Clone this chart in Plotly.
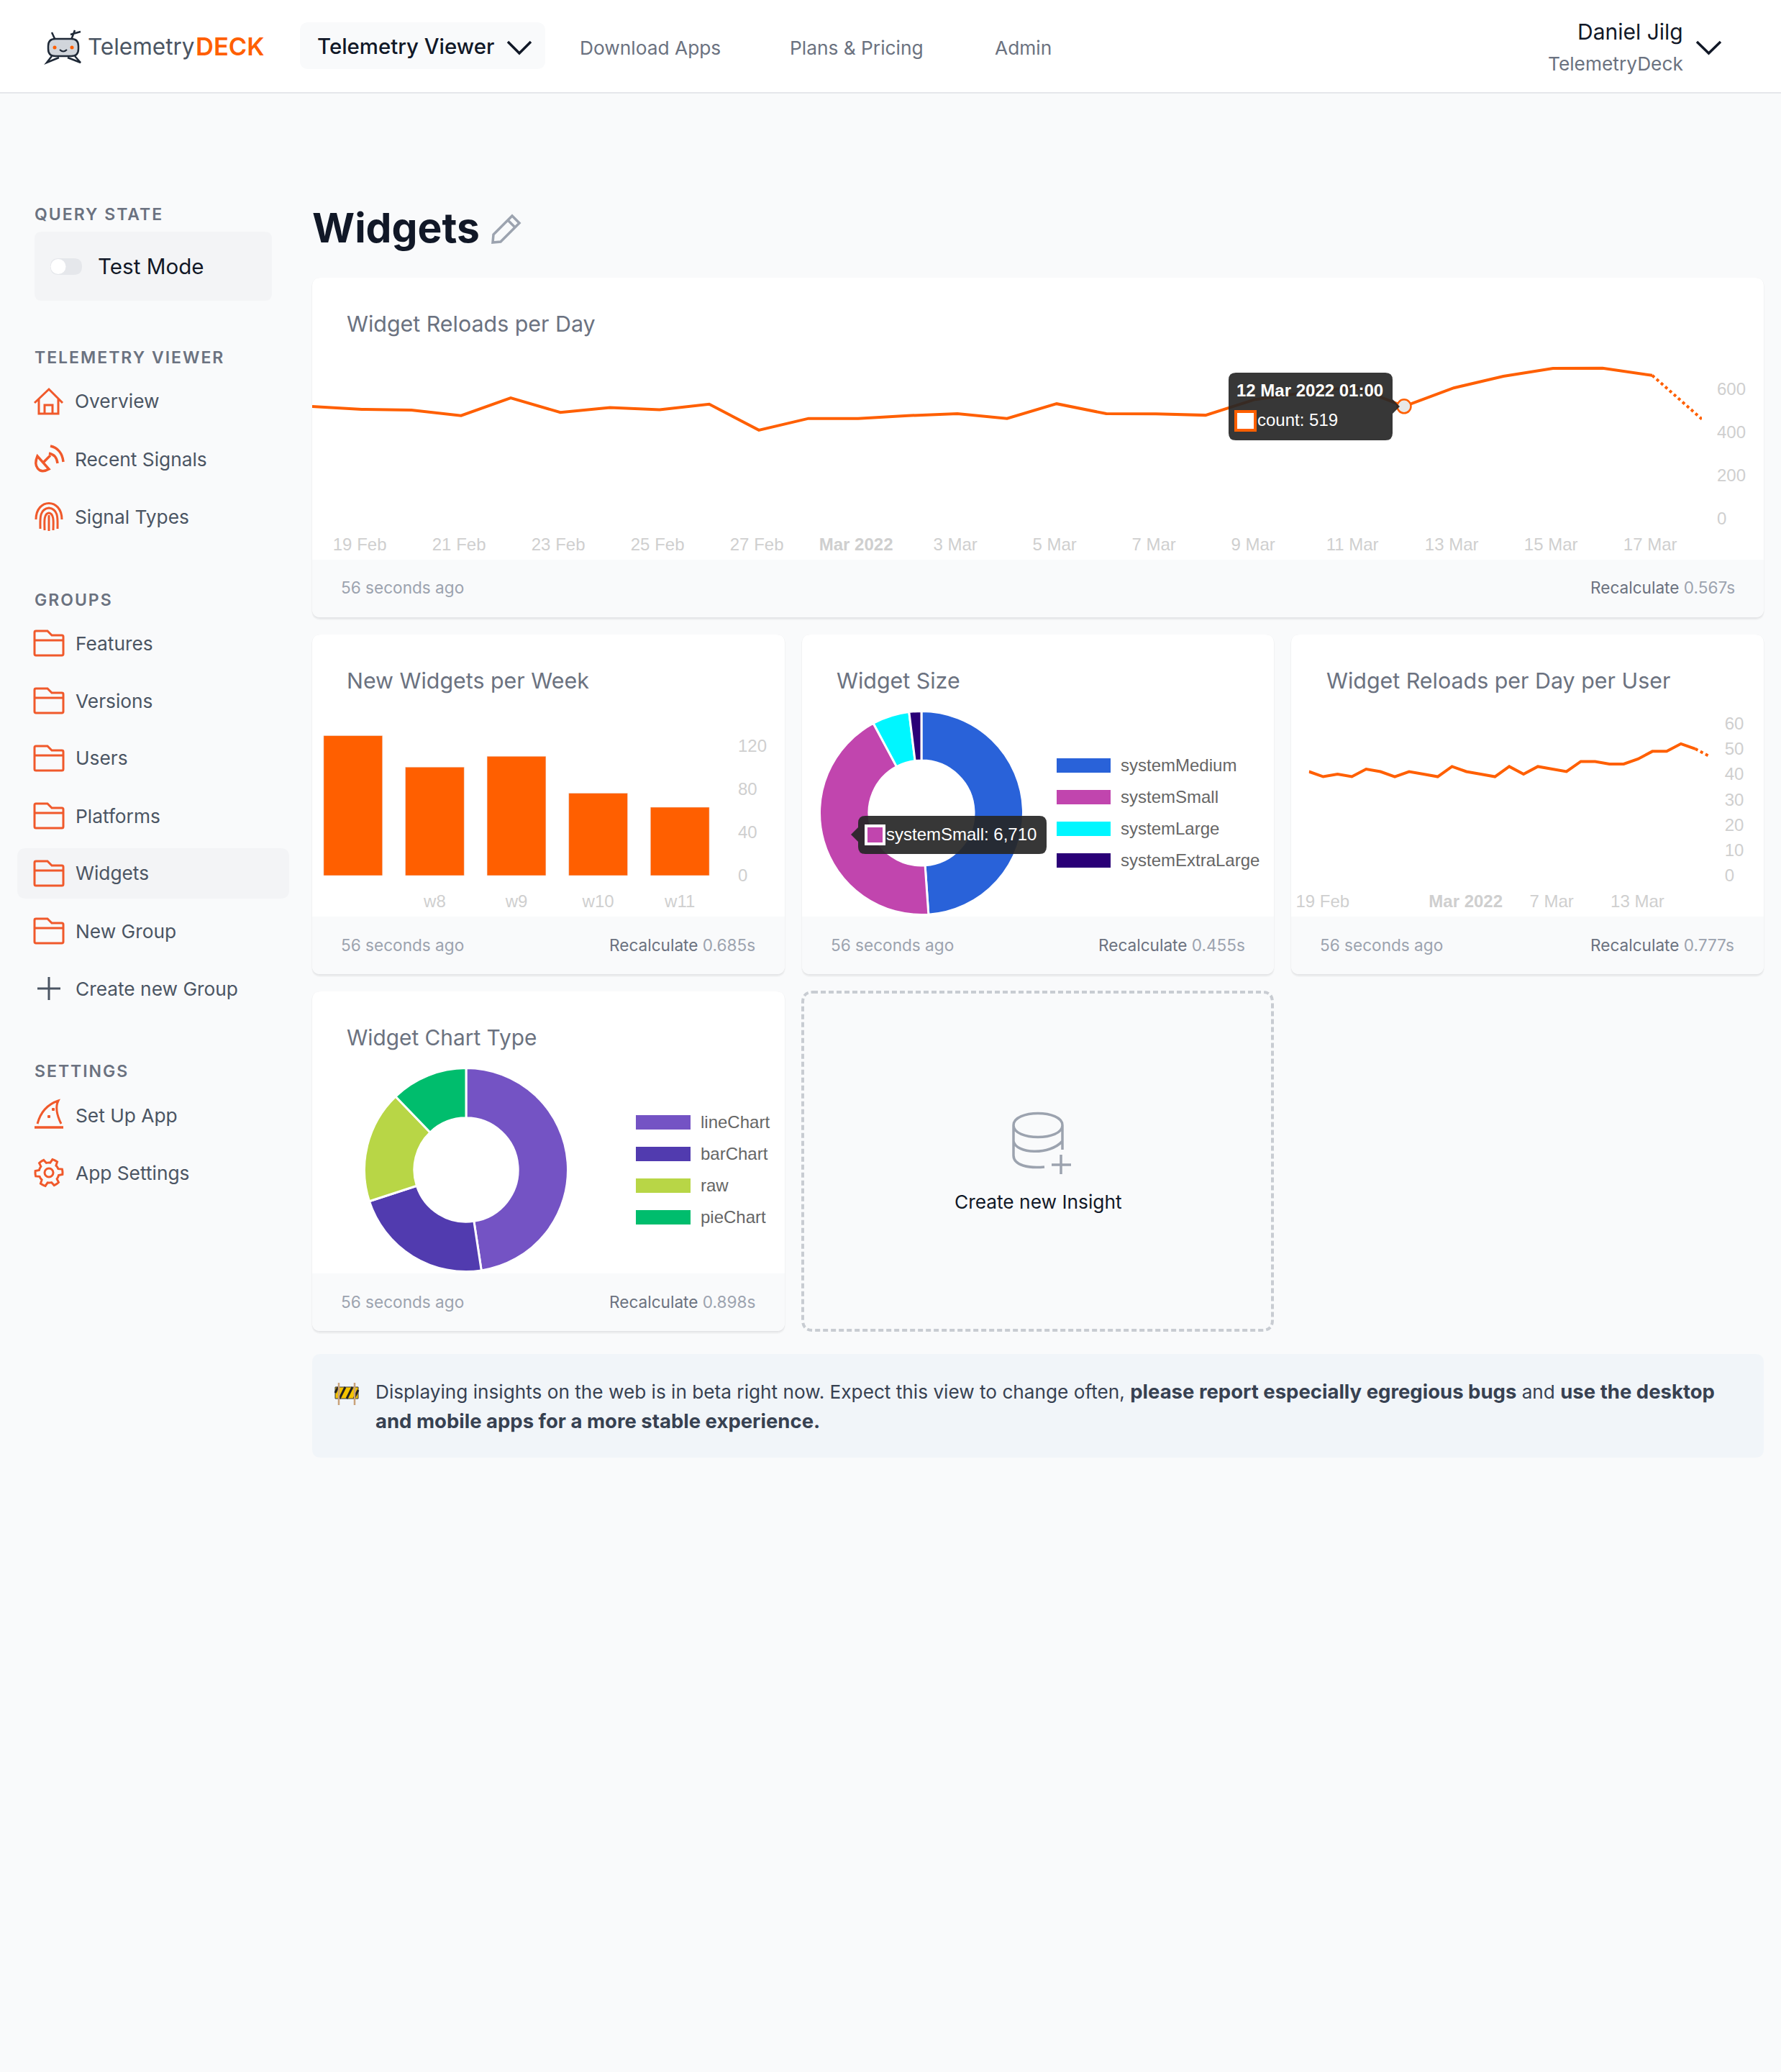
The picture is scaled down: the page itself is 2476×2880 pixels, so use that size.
import math
import re
import plotly.graph_objs as go

W = 2476
H = 2880

# ---- dados ----
reload_dates = ["2022-02-18 01:00", "2022-02-19 01:00", "2022-02-20 01:00", "2022-02-21 01:00", "2022-02-22 01:00",
                "2022-02-23 01:00", "2022-02-24 01:00", "2022-02-25 01:00", "2022-02-26 01:00", "2022-02-27 01:00",
                "2022-02-28 01:00", "2022-03-01 01:00", "2022-03-02 01:00", "2022-03-03 01:00", "2022-03-04 01:00",
                "2022-03-05 01:00", "2022-03-06 01:00", "2022-03-07 01:00", "2022-03-08 01:00", "2022-03-09 01:00",
                "2022-03-10 01:00", "2022-03-11 01:00", "2022-03-12 01:00", "2022-03-13 01:00", "2022-03-14 01:00",
                "2022-03-15 01:00", "2022-03-16 01:00", "2022-03-17 01:00", "2022-03-18 01:00"]
reload_counts = [518, 505, 502, 476, 558, 491, 513, 503, 529, 409, 463, 463, 476, 485, 463, 531, 485, 484, 478,
                 551, 582, 609, 519, 604, 658, 694, 695, 662, 460]
reload_tick_dates = ["2022-02-19", "2022-02-21", "2022-02-23", "2022-02-25", "2022-02-27", "2022-03-01", "2022-03-03",
                     "2022-03-05", "2022-03-07", "2022-03-09", "2022-03-11", "2022-03-13", "2022-03-15", "2022-03-17"]
reload_tick_text = ["19 Feb", "21 Feb", "23 Feb", "25 Feb", "27 Feb", "<b>Mar 2022</b>", "3 Mar", "5 Mar", "7 Mar",
                    "9 Mar", "11 Mar", "13 Mar", "15 Mar", "17 Mar"]
reload_y_ticks = [0, 200, 400, 600]

week_names = ["w7", "w8", "w9", "w10", "w11"]
week_counts = [129, 100, 110, 76, 63]
week_ticks = ["w8", "w9", "w10", "w11"]
week_y_ticks = [0, 40, 80, 120]

size_names = ["systemMedium", "systemSmall", "systemLarge", "systemExtraLarge"]
size_counts = [7580, 6710, 913, 301]
size_colors = ["#2962d9", "#c145ae", "#00f6ff", "#2a0077"]

user_counts = [41, 39, 40, 39, 42, 41, 39, 41, 40, 39, 43, 41, 40, 39, 43, 40, 43, 42, 41, 45, 45, 44, 44, 46, 49,
               49, 52, 50, 47]
user_tick_dates = ["2022-02-19", "2022-03-01", "2022-03-07", "2022-03-13"]
user_tick_text = ["19 Feb", "<b>Mar 2022</b>", "7 Mar", "13 Mar"]
user_y_ticks = [0, 10, 20, 30, 40, 50, 60]

type_names = ["lineChart", "barChart", "raw", "pieChart"]
type_counts = [476, 224, 178, 122]
type_colors = ["#7453c4", "#513baf", "#b8d646", "#00bd6d"]

nav_viewer = ["Overview", "Recent Signals", "Signal Types"]
nav_groups = ["Features", "Versions", "Users", "Platforms", "Widgets", "New Group"]
recalc_times = ["0.567s", "0.685s", "0.455s", "0.777s", "0.898s"]

ORANGE = "#ff5f00"
ICON = "#f0592b"
BG = "#f9fafb"
UI = "Inter, sans-serif"
CHART = "Liberation Sans, Arial, sans-serif"
TICK = "#cfcfcf"
NAV = 26.3
TITLE = 30.4
FOOT = 22.6
HEAD = 23

shapes = []
annotations = []


def fx(px):
    return px / W


def fy(py):
    return 1 - py / H


def conv(d):
    # path em pixels para coordenadas do paper
    idx = [0]

    def rep(m):
        v = float(m.group(0))
        i = idx[0]
        idx[0] += 1
        return f"{fx(v):.6f}" if i % 2 == 0 else f"{fy(v):.6f}"

    return re.sub(r"-?\d+\.?\d*", rep, d)


def path(d, fill=None, line=None, width=0, dash=None, layer="below"):
    shapes.append(dict(type="path", xref="paper", yref="paper", path=conv(d), layer=layer,
                       fillcolor=fill if fill else "rgba(0,0,0,0)",
                       line=dict(color=line if line else "rgba(0,0,0,0)", width=width, dash=dash or "solid")))


def rr(x0, y0, x1, y1, r):
    return (f"M{x0 + r},{y0} L{x1 - r},{y0} Q{x1},{y0} {x1},{y0 + r} L{x1},{y1 - r} Q{x1},{y1} {x1 - r},{y1} "
            f"L{x0 + r},{y1} Q{x0},{y1} {x0},{y1 - r} L{x0},{y0 + r} Q{x0},{y0} {x0 + r},{y0} Z")


def circle(cx, cy, r, fill=None, line=None, width=0, layer="below"):
    shapes.append(dict(type="circle", xref="paper", yref="paper", x0=fx(cx - r), x1=fx(cx + r),
                       y0=fy(cy + r), y1=fy(cy - r), layer=layer, fillcolor=fill if fill else "rgba(0,0,0,0)",
                       line=dict(color=line if line else "rgba(0,0,0,0)", width=width)))


def txt(x, y, s, size=NAV, color="#6b7280", anchor="left", family=UI, weight=None):
    font = dict(size=size, color=color, family=family)
    if weight:
        font["weight"] = weight
    annotations.append(dict(x=fx(x), y=fy(y), xref="paper", yref="paper", xanchor=anchor, yanchor="middle",
                            showarrow=False, text=s, font=font, borderpad=0, borderwidth=0))


def heading(y, s):
    # o letter-spacing do post_script abre o texto para os dois lados, dai o len(s)
    txt(48 + len(s), y, s, size=HEAD, weight=600)


def chevron(x0, x1, y0, y1):
    path(f"M{x0},{y0} L{(x0 + x1) / 2},{y1} L{x1},{y0}", line="#111827", width=3.5)


def card(x0, y0, x1, y1, foot):
    # sombra fraquinha + corpo branco + rodape
    path(rr(x0 - 1, y0, x1 + 1, y1 + 4, 14), fill="rgba(17,24,39,0.035)")
    path(rr(x0, y0, x1, y1 + 2, 12), fill="rgba(17,24,39,0.05)")
    path(rr(x0, y0, x1, y1, 12), fill="white")
    path(f"M{x0},{foot} L{x1},{foot} L{x1},{y1 - 12} Q{x1},{y1} {x1 - 12},{y1} L{x0 + 12},{y1} "
         f"Q{x0},{y1} {x0},{y1 - 12} Z", fill=BG)


def folder(c):
    path(f"M50,{c - 17} L66,{c - 17} L72,{c - 11} L86,{c - 11} Q88,{c - 11} 88,{c - 9} L88,{c + 15} "
         f"Q88,{c + 17} 86,{c + 17} L50,{c + 17} Q48,{c + 17} 48,{c + 15} L48,{c - 15} Q48,{c - 17} 50,{c - 17} Z",
         line=ICON, width=3)
    path(f"M48,{c - 4} L88,{c - 4}", line=ICON, width=3)


# ---- cabecalho ----
path(f"M0,0 L{W},0 L{W},128 L0,128 Z", fill="white")
path(f"M0,129 L{W},129", line="#e5e7eb", width=2)
# robo do logo
path("M72,45 L78,58", line="#1f2937", width=2.5)
path("M104,42 L98,58 M98,48 L112,44", line="#1f2937", width=2.5)
path(rr(67, 54, 109, 78, 10), fill="#d1d5db", line="#1f2937", width=2.5)
circle(76, 66, 2.5, fill=ORANGE)
circle(100, 66, 2.5, fill=ORANGE)
path("M83,69 Q88,74 93,69", line="#1f2937", width=2)
path("M72,78 L65,87 L82,80 M104,78 L112,87 L94,80", line="#1f2937", width=2.5)
txt(122, 64, "Telemetry", size=31.5, color="#4b5563")
txt(272, 64, "DECK", size=34.5, color=ORANGE, weight=600)
path(rr(417, 31, 758, 96, 12), fill=BG)
txt(441, 64, "Telemetry Viewer", size=29.4, color="#111827", weight=500)
chevron(706, 738, 58, 74)
txt(806, 67, "Download Apps")
txt(1098, 67, "Plans &amp; Pricing")
txt(1383, 67, "Admin")
txt(2340, 44, "Daniel Jilg", size=30, color="#111827", anchor="right")
txt(2340, 88, "TelemetryDeck", anchor="right")
chevron(2359, 2392, 58, 74)

# ---- barra lateral ----
heading(298, "QUERY STATE")
path(rr(48, 322, 378, 418, 10), fill="#f3f4f6")
path(rr(70, 359, 114, 382, 11.5), fill="#e5e7eb")
circle(81, 370.5, 10.5, fill="white")
txt(136, 370, "Test Mode", size=29.6, color="#111827")

heading(497, "TELEMETRY VIEWER")
for name, y in zip(nav_viewer, [558, 638, 718]):
    txt(104, y, name, color="#4b5563")
# casa
path("M48,560 L68,541 L87,560 M54,555 L54,575 L81,575 L81,555 M62,575 L62,563 L73,563 L73,575", line=ICON, width=3)
# antena
path("M52,634 C46,648 54,660 68,652 Z M60,643 L70,633", line=ICON, width=3.5)
path("M68,630 C76,632 79,636 80,644 M70,620 C80,622 87,630 88,642", line=ICON, width=3.5)
# digital
path("M50,722 C50,692 86,692 86,722 M56,735 C56,722 54,708 68,706 C82,708 80,722 80,735 M68,738 L68,716 "
     "M62,737 C62,728 60,714 68,713 C76,714 74,728 74,737", line=ICON, width=3)

heading(834, "GROUPS")
path(rr(24, 1179, 402, 1249, 12), fill="#f3f4f6")
for name, y in zip(nav_groups, [894, 974, 1054, 1134, 1214, 1294]):
    folder(y)
    txt(105, y, name, color="#4b5563")
path("M52,1374 L84,1374 M68,1358 L68,1390", line="#4b5563", width=3)
txt(105, 1374, "Create new Group", color="#4b5563")

heading(1489, "SETTINGS")
# chapeu
path("M48,1567 L88,1567", line=ICON, width=3.5)
path("M52,1562 C56,1547 66,1535 81,1530 C76,1540 80,1552 85,1562", line=ICON, width=3)
path("M66,1552 L70,1552 M68,1550 L68,1554 M72,1542 L76,1542 M74,1540 L74,1544", line=ICON, width=3)
txt(105, 1550, "Set Up App", color="#4b5563")
# engrenagem
gear = []
for i in range(48):
    a = i / 48 * 2 * math.pi
    r = 19 if (i + 2) % 8 < 4 else 14
    gear.append(f"{68 + r * math.cos(a):.2f},{1630 + r * math.sin(a):.2f}")
path("M" + " L".join(gear) + " Z", line=ICON, width=3)
circle(68, 1630, 6, line=ICON, width=3)
txt(105, 1630, "App Settings", color="#4b5563")

# ---- titulo ----
txt(434, 316, "Widgets", size=57, color="#111827", weight=700)
path("M686,326 L712,300 L722,310 L696,336 L685,337 Z M706,306 L716,316", line="#9ca3af", width=3.5)

# ---- cartoes ----
card(434, 386, 2452, 858, 778)
card(434, 882, 1091, 1354, 1274)
card(1115, 882, 1771, 1354, 1274)
card(1795, 882, 2452, 1354, 1274)
card(434, 1378, 1091, 1850, 1770)

txt(482, 450, "Widget Reloads per Day", size=TITLE)
txt(482, 946, "New Widgets per Week", size=TITLE)
txt(1163, 946, "Widget Size", size=TITLE)
txt(1844, 946, "Widget Reloads per Day per User", size=TITLE)
txt(482, 1442, "Widget Chart Type", size=29.8)

foot_rows = [(474, 2412, 817), (474, 1050, 1313), (1155, 1731, 1313), (1835, 2411, 1313), (474, 1050, 1809)]
for (xa, xb, yy), t in zip(foot_rows, recalc_times):
    txt(xa, yy, "56 seconds ago", size=FOOT, color="#9ca3af")
    txt(xb, yy, f'Recalculate <span style="color:#9ca3af">{t}</span>', size=FOOT, anchor="right")

# cartao tracejado
path(rr(1116, 1379, 1769, 1849, 14), line="#c8ccd2", width=4, dash="7px,4px")
path("M1409,1564 C1409,1542 1477,1542 1477,1564 C1477,1586 1409,1586 1409,1564 "
     "M1409,1564 L1409,1606 C1409,1620 1430,1624 1452,1622 M1477,1564 L1477,1598 "
     "M1409,1586 C1412,1604 1460,1606 1477,1586", line="#9ca3af", width=3.5)
path("M1462,1619 L1489,1619 M1475,1605 L1475,1632", line="#9ca3af", width=3.5)
txt(1443, 1670, "Create new Insight", color="#111827", anchor="center")

# aviso beta
BOLD = '<span style="font-weight:700;font-size:27.5px">'
path(rr(434, 1882, 2452, 2026, 12), fill="#f1f5f9")
path("M466,1928 L498,1928 L498,1944 L466,1944 Z", fill="#f5c400", line="#3b3b3b", width=1)
path("M470,1928 L466,1936 M480,1928 L472,1944 M490,1928 L482,1944 M498,1932 L492,1944", line="#222222", width=3)
path("M471,1922 L471,1953 M493,1922 L493,1953", line="#c9a27a", width=2.5)
txt(522, 1934, 'Displaying insights on the web is in beta right now. Expect this view to change often, '
    f'{BOLD}please report especially egregious bugs</span> and {BOLD}use the desktop</span>', size=26.2, color="#374151")
txt(522, 1975, f"{BOLD}and mobile apps for a more stable experience.</span>", size=26.2, color="#374151")

# ---- legendas dos donuts ----
for name, color, y in zip(size_names, size_colors, [1064, 1108, 1152, 1196]):
    path(f"M1469,{y - 10} L1544,{y - 10} L1544,{y + 10} L1469,{y + 10} Z", fill=color)
    txt(1558, y - 1, name, size=24, color="#666666", family=CHART)
for name, color, y in zip(type_names, type_colors, [1560, 1604, 1648, 1692]):
    path(f"M884,{y - 10} L960,{y - 10} L960,{y + 10} L884,{y + 10} Z", fill=color)
    txt(974, y - 1, name, size=24, color="#666666", family=CHART)

# ---- tooltips por cima dos graficos ----
TIP = "rgba(38,38,38,0.92)"
path(rr(1708, 518, 1936, 612, 10), fill=TIP, layer="above")
path("M1936,555 L1946,565 L1936,575 Z", fill=TIP, layer="above")
path("M1718,572 L1745,572 L1745,598 L1718,598 Z", fill="white", line=ORANGE, width=4, layer="above")
txt(1719, 543, "<b>12 Mar 2022 01:00</b>", size=24, color="white", family=CHART)
txt(1748, 584, "count: 519", size=24, color="white", family=CHART)

path(rr(1193, 1134, 1455, 1187, 10), fill=TIP, layer="above")
path("M1193,1150 L1183,1160 L1193,1170 Z", fill=TIP, layer="above")
path("M1204,1148 L1229,1148 L1229,1173 L1204,1173 Z", fill=size_colors[1], line="white", width=4, layer="above")
txt(1232, 1159, "systemSmall: 6,710", size=24, color="white", family=CHART)


def axis_font():
    return dict(size=24, color=TICK, family=CHART)


def dom_x(a, b):
    return [fx(a), fx(b)]


def dom_y(top, bottom):
    return [fy(bottom), fy(top)]


# ---- graficos ----
traces = [
    go.Scatter(x=reload_dates[:-1], y=reload_counts[:-1], mode="lines", line=dict(color=ORANGE, width=4),
               xaxis="x", yaxis="y", name="count"),
    go.Scatter(x=reload_dates[-2:], y=reload_counts[-2:], mode="lines", line=dict(color=ORANGE, width=4, dash="dot"),
               xaxis="x", yaxis="y", name="count"),
    go.Scatter(x=[reload_dates[22]], y=[reload_counts[22]], mode="markers",
               marker=dict(size=19, color="#e8e8e8", line=dict(color=ORANGE, width=2.5)),
               xaxis="x", yaxis="y", name="count"),
    go.Bar(x=week_names, y=week_counts, marker=dict(color=ORANGE), xaxis="x2", yaxis="y2", name="count"),
    go.Scatter(x=reload_dates[:-1], y=user_counts[:-1], mode="lines", line=dict(color=ORANGE, width=4),
               xaxis="x3", yaxis="y3", name="count"),
    go.Scatter(x=reload_dates[-2:], y=user_counts[-2:], mode="lines", line=dict(color=ORANGE, width=4, dash="dot"),
               xaxis="x3", yaxis="y3", name="count"),
    go.Pie(labels=size_names, values=size_counts, hole=0.516, sort=False, direction="clockwise", rotation=0,
           textinfo="none", marker=dict(colors=size_colors, line=dict(color="white", width=3)),
           domain=dict(x=dom_x(1139.5, 1422.5), y=dom_y(988.5, 1271.5))),
    go.Pie(labels=type_names, values=type_counts, hole=0.51, sort=False, direction="clockwise", rotation=0,
           textinfo="none", marker=dict(colors=type_colors, line=dict(color="white", width=3)),
           domain=dict(x=dom_x(506.5, 789.5), y=dom_y(1484.5, 1767.5))),
]

common_x = dict(showgrid=False, zeroline=False, showline=False, ticks="", tickfont=axis_font(), tickangle=0,
                tickmode="array", ticklabelstandoff=19, automargin=False)
common_y = dict(showgrid=False, zeroline=False, showline=False, ticks="", tickfont=axis_font(), side="right",
                tickmode="array", ticklabelstandoff=20, automargin=False)

layout = go.Layout(
    width=W,
    height=H,
    margin=dict(l=0, r=0, t=0, b=0),
    paper_bgcolor=BG,
    plot_bgcolor="rgba(0,0,0,0)",
    showlegend=False,
    bargap=0.28,
    hovermode="closest",
    font=dict(family=UI),
    xaxis=dict(common_x, type="date", domain=dom_x(434, 2366), anchor="y",
               range=[reload_dates[0], reload_dates[-1]], tickvals=reload_tick_dates, ticktext=reload_tick_text),
    yaxis=dict(common_y, domain=dom_y(480.2, 721), anchor="x", range=[0, 800], tickvals=reload_y_ticks),
    xaxis2=dict(common_x, type="category", domain=dom_x(434, 1002), anchor="y2", range=[-0.5, 4.5],
                categoryorder="array", categoryarray=week_names, tickvals=week_ticks, ticktext=week_ticks),
    yaxis2=dict(common_y, domain=dom_y(975.8, 1217), anchor="x2", range=[0, 160], tickvals=week_y_ticks,
                ticklabelstandoff=23),
    xaxis3=dict(common_x, type="date", domain=dom_x(1819.7, 2376.7), anchor="y3",
                range=[reload_dates[0], reload_dates[-1]], tickvals=user_tick_dates, ticktext=user_tick_text),
    yaxis3=dict(common_y, domain=dom_y(970.5, 1216.7), anchor="x3", range=[0, 70], tickvals=user_y_ticks),
    shapes=shapes,
    annotations=annotations,
)

# cabecalhos da barra lateral tem letter-spacing, que o plotly nao expoe
post = """document.body.style.margin='0';document.body.style.overflow='hidden';
document.querySelectorAll('.annotation-text').forEach(function(t){
  var s=t.textContent; if(s.length>5 && s===s.toUpperCase()){t.style.letterSpacing='2px';}
});"""

fig = go.Figure(data=traces, layout=layout)
fig.write_html("out.html", config={"displayModeBar": False}, post_script=post)
